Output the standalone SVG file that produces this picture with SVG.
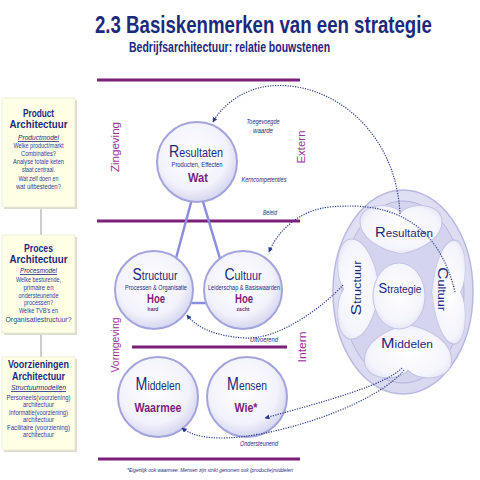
<svg xmlns="http://www.w3.org/2000/svg" width="480" height="480" viewBox="0 0 480 480">
<defs>
<style>
text{font-family:"Liberation Sans",Arial,sans-serif;}
.ttl{font-weight:bold;fill:#1c2a7c}
.bh{font-size:10.5px;font-weight:bold;fill:#1c2a7c;text-anchor:middle}
.bm{font-size:8px;font-style:italic;text-decoration:underline;fill:#1c2a7c;text-anchor:middle}
.bs{font-size:6.5px;fill:#2c3c9c;text-anchor:middle}
.box{fill:#ffffe6;stroke:#ecebd0;stroke-width:0.8}
.shd{fill:#dcdccf}
.vline{stroke:#9a9a9a;stroke-width:1}
.pl{stroke:#7b1f7b;stroke-width:3}
.ci{fill:url(#gc);stroke:#a4a4dc;stroke-width:2}
.cn{font-size:13px;fill:#1c2a7c;text-anchor:middle}
.cs{font-size:6.5px;fill:#1c2a7c;text-anchor:middle}
.cp{font-size:13px;font-weight:bold;fill:#7b1f7b;text-anchor:middle}
.cx{font-size:5px;font-weight:bold;fill:#7b1f7b;text-anchor:middle}
.vl{font-size:10px;fill:#993399;text-anchor:middle}
.il{font-size:6.5px;font-style:italic;fill:#1c2a7c;text-anchor:middle}
.tri{stroke:#8c8ce0;stroke-width:2.5}
.dot{fill:none;stroke:#2a3a8a;stroke-width:1.2;stroke-dasharray:1.2 1.3}
.arr{marker-end:url(#ah)}
.pe{fill:url(#gp);stroke:#c4c4e4;stroke-width:1}
.en{font-size:11px;fill:#1c2a7c;text-anchor:middle}
</style>
<radialGradient id="gc" cx="0.45" cy="0.4" r="0.62">
<stop offset="0" stop-color="#ffffff"/>
<stop offset="0.7" stop-color="#f2f2fb"/>
<stop offset="1" stop-color="#d2d2ef"/>
</radialGradient>
<radialGradient id="gp" cx="0.5" cy="0.45" r="0.6">
<stop offset="0" stop-color="#ffffff"/>
<stop offset="0.75" stop-color="#f4f4fc"/>
<stop offset="1" stop-color="#e0e0f4"/>
</radialGradient>
<radialGradient id="ge" cx="0.45" cy="0.4" r="0.6">
<stop offset="0" stop-color="#ececf9"/>
<stop offset="1" stop-color="#d8d8f0"/>
</radialGradient>
<marker id="ah" viewBox="0 0 10 10" refX="9" refY="5" markerWidth="5" markerHeight="5" orient="auto" markerUnits="userSpaceOnUse">
<path d="M0 0 L10 5 L0 10 Z" fill="#2a3a8a"/>
</marker>
<path id="heart" d="M0 -18 C-10 -30 -38 -28 -38 -8 C-38 8 -22 22 0 27 C22 22 38 8 38 -8 C38 -28 10 -30 0 -18 Z"/>
</defs>
<rect width="480" height="480" fill="#ffffff"/>

<g id="title">
<text class="ttl" transform="translate(95,33) scale(0.777,1)" font-size="24">2.3 Basiskenmerken van een strategie</text>
<text class="ttl" transform="translate(129,52) scale(0.75,1)" font-size="14">Bedrijfsarchitectuur: relatie bouwstenen</text>
</g>

<g id="purple-lines">
<line class="pl" x1="97" y1="80" x2="300" y2="80"/>
<line class="pl" x1="97" y1="221" x2="300" y2="221"/>
<line class="pl" x1="132" y1="347" x2="287" y2="347"/>
<line class="pl" x1="98" y1="459" x2="300" y2="459"/>
</g>

<g id="box-links">
<line class="vline" x1="41" y1="207" x2="41" y2="235"/>
<line class="vline" x1="41" y1="333" x2="41" y2="357"/>
</g>

<g id="product-architectuur">
<rect class="shd" x="4" y="100" width="73" height="109"/>
<rect class="box" x="2" y="98" width="73" height="109"/>
<text class="bh" x="38.5" y="117" textLength="31" lengthAdjust="spacingAndGlyphs">Product</text>
<text class="bh" x="38.5" y="128" textLength="58" lengthAdjust="spacingAndGlyphs">Architectuur</text>
<text class="bm" x="38.5" y="140" textLength="41" lengthAdjust="spacingAndGlyphs">Productmodel</text>
<text class="bs" x="38.5" y="148" textLength="50" lengthAdjust="spacingAndGlyphs">Welke product/markt</text>
<text class="bs" x="38.5" y="156" textLength="35" lengthAdjust="spacingAndGlyphs">Combinaties?</text>
<text class="bs" x="38.5" y="164" textLength="51" lengthAdjust="spacingAndGlyphs">Analyse totale keten</text>
<text class="bs" x="38.5" y="172" textLength="33" lengthAdjust="spacingAndGlyphs">staat centraal.</text>
<text class="bs" x="38.5" y="181" textLength="40" lengthAdjust="spacingAndGlyphs">Wat zelf doen en</text>
<text class="bs" x="38.5" y="189" textLength="45" lengthAdjust="spacingAndGlyphs">wat uitbesteden?</text>
</g>

<g id="proces-architectuur">
<rect class="shd" x="4" y="237" width="73" height="98"/>
<rect class="box" x="2" y="235" width="73" height="98"/>
<text class="bh" x="38.5" y="252" textLength="29" lengthAdjust="spacingAndGlyphs">Proces</text>
<text class="bh" x="38.5" y="263" textLength="58" lengthAdjust="spacingAndGlyphs">Architectuur</text>
<text class="bm" x="38.5" y="273" textLength="37" lengthAdjust="spacingAndGlyphs">Procesmodel</text>
<text class="bs" x="38.5" y="282" textLength="45" lengthAdjust="spacingAndGlyphs">Welke besturende,</text>
<text class="bs" x="38.5" y="290" textLength="30" lengthAdjust="spacingAndGlyphs">primaire en</text>
<text class="bs" x="38.5" y="298" textLength="40" lengthAdjust="spacingAndGlyphs">ondersteunende</text>
<text class="bs" x="38.5" y="305" textLength="29" lengthAdjust="spacingAndGlyphs">processen?</text>
<text class="bs" x="38.5" y="313" textLength="39" lengthAdjust="spacingAndGlyphs">Welke TVB's en</text>
<text class="bs" x="38.5" y="322" textLength="66" lengthAdjust="spacingAndGlyphs">Organisatiestructuur?</text>
</g>

<g id="voorzieningen-architectuur">
<rect class="shd" x="4" y="359" width="73" height="93"/>
<rect class="box" x="2" y="357" width="73" height="93"/>
<text class="bh" x="38.5" y="368" textLength="61" lengthAdjust="spacingAndGlyphs">Voorzieningen</text>
<text class="bh" x="38.5" y="380" textLength="53" lengthAdjust="spacingAndGlyphs">Architectuur</text>
<text class="bm" x="38.5" y="390" textLength="55" lengthAdjust="spacingAndGlyphs">Structuurmodellen</text>
<text class="bs" x="38.5" y="400" textLength="64" lengthAdjust="spacingAndGlyphs">Personeels(voorziening)</text>
<text class="bs" x="38.5" y="407" textLength="31" lengthAdjust="spacingAndGlyphs">architectuur</text>
<text class="bs" x="38.5" y="415" textLength="59" lengthAdjust="spacingAndGlyphs">Informatie(voorziening)</text>
<text class="bs" x="38.5" y="422" textLength="31" lengthAdjust="spacingAndGlyphs">architectuur</text>
<text class="bs" x="38.5" y="430" textLength="63" lengthAdjust="spacingAndGlyphs">Facilitaire (voorziening)</text>
<text class="bs" x="38.5" y="437" textLength="31" lengthAdjust="spacingAndGlyphs">architectuur</text>
</g>

<g id="triangle-links">
<line class="tri" x1="193" y1="195" x2="175" y2="262"/>
<line class="tri" x1="201" y1="195" x2="221" y2="262"/>
<line class="tri" x1="185" y1="303" x2="212" y2="303"/>
</g>

<g id="axis-labels">
<text class="vl" transform="translate(119,147) rotate(-90)" textLength="50" lengthAdjust="spacingAndGlyphs">Zingeving</text>
<text class="vl" transform="translate(305,147) rotate(-90)" textLength="33" lengthAdjust="spacingAndGlyphs">Extern</text>
<text class="vl" transform="translate(119,345) rotate(-90)" textLength="55" lengthAdjust="spacingAndGlyphs">Vormgeving</text>
<text class="vl" transform="translate(306,347) rotate(-90)" textLength="31" lengthAdjust="spacingAndGlyphs">Intern</text>
</g>

<g id="resultaten">
<circle class="ci" cx="197" cy="162" r="40"/>
<text class="cn" transform="translate(196,157) scale(0.83,1)"><tspan font-size="17">R</tspan>esultaten</text>
<text class="cs" x="197" y="167" textLength="51" lengthAdjust="spacingAndGlyphs">Producten, Effecten</text>
<text class="cp" x="198" y="182" textLength="20" lengthAdjust="spacingAndGlyphs">Wat</text>
</g>

<g id="structuur">
<circle class="ci" cx="154" cy="290" r="39"/>
<text class="cn" transform="translate(155,280) scale(0.81,1)"><tspan font-size="17">S</tspan>tructuur</text>
<text class="cs" x="156" y="289.5" textLength="62" lengthAdjust="spacingAndGlyphs">Processen &amp; Organisatie</text>
<text class="cp" x="156" y="303" font-size="12" textLength="18" lengthAdjust="spacingAndGlyphs">Hoe</text>
<text class="cx" x="153" y="311">hard</text>
</g>

<g id="cultuur">
<circle class="ci" cx="243" cy="290" r="39"/>
<text class="cn" transform="translate(243,280) scale(0.83,1)"><tspan font-size="17">C</tspan>ultuur</text>
<text class="cs" x="244" y="289.5" textLength="72" lengthAdjust="spacingAndGlyphs">Leiderschap &amp; Basiswaarden</text>
<text class="cp" x="244" y="303" font-size="12" textLength="18" lengthAdjust="spacingAndGlyphs">Hoe</text>
<text class="cx" x="243" y="311">zacht</text>
</g>

<g id="middelen">
<circle class="ci" cx="158" cy="397" r="40"/>
<text class="cn" transform="translate(158,390) scale(0.79,1)"><tspan font-size="18">M</tspan>iddelen</text>
<text class="cp" x="158" y="412" textLength="47" lengthAdjust="spacingAndGlyphs">Waarmee</text>
</g>

<g id="mensen">
<circle class="ci" cx="247" cy="397" r="40"/>
<text class="cn" transform="translate(247,390) scale(0.79,1)"><tspan font-size="18">M</tspan>ensen</text>
<text class="cp" x="246" y="412" textLength="23" lengthAdjust="spacingAndGlyphs">Wie*</text>
</g>

<g id="strategie-model">
<ellipse cx="403" cy="292" rx="70" ry="102" fill="url(#ge)" stroke="#b8b8e0" stroke-width="1.5"/>
<ellipse cx="403" cy="292" rx="61" ry="91" fill="#d4d4ef" stroke="#b4b4de" stroke-width="1"/>
<use href="#heart" class="pe" transform="translate(401,229) scale(1.08,0.92)"/>
<use href="#heart" class="pe" transform="translate(408,352) rotate(180) scale(1.15,1.02)"/>
<use href="#heart" class="pe" transform="translate(358,289) rotate(-90) scale(1.32,0.8)"/>
<use href="#heart" class="pe" transform="translate(449,292) rotate(90) scale(1.37,0.64)"/>
<ellipse cx="399" cy="296" rx="26" ry="33" class="pe"/>
<text class="en" transform="translate(404,237) scale(1.06,1)"><tspan font-size="14">R</tspan>esultaten</text>
<text class="en" transform="translate(400,293) scale(0.93,1)"><tspan font-size="14">S</tspan>trategie</text>
<text class="en" font-size="12" transform="translate(407,348) scale(1.08,1)"><tspan font-size="15">M</tspan>iddelen</text>
<text class="en" font-size="12" transform="translate(361,288) rotate(-90) scale(1.16,1)"><tspan font-size="15">S</tspan>tructuur</text>
<text class="en" font-size="12" transform="translate(438,289) rotate(90) scale(1.15,1)"><tspan font-size="15">C</tspan>ultuur</text>
</g>

<g id="connector-labels">
<text class="il" x="263" y="124" textLength="33" lengthAdjust="spacingAndGlyphs">Toegevoegde</text>
<text class="il" x="263" y="133" textLength="20" lengthAdjust="spacingAndGlyphs">waarde</text>
<text class="il" x="264" y="182" textLength="45" lengthAdjust="spacingAndGlyphs">Kerncompetenties</text>
<text class="il" x="270" y="215" textLength="14" lengthAdjust="spacingAndGlyphs">Beleid</text>
<text class="il" x="264" y="342" textLength="28" lengthAdjust="spacingAndGlyphs">Uitvoerend</text>
<text class="il" x="259" y="446" textLength="38" lengthAdjust="spacingAndGlyphs">Ondersteunend</text>
</g>

<g id="connectors">
<path class="dot arr" d="M400 214 C396 130 330 80 270 86 C245 88 222 105 213 122"/>
<path class="dot arr" d="M455 292 C440 230 400 200 330 207 C300 210 278 230 269 252"/>
<path class="dot arr" d="M343 285 C325 305 280 340 245 338 C215 336 197 328 187 315"/>
<path class="dot arr" d="M402 368 C385 385 330 400 265 418"/>
<path class="dot arr" d="M404 370 C380 400 300 430 240 437 C210 440 192 436 182 428"/>
</g>

<text id="footnote" x="210" y="472" font-size="5.5" font-style="italic" fill="#1c2a7c" text-anchor="middle" textLength="166" lengthAdjust="spacingAndGlyphs">*Eigenlijk ook waarmee. Mensen zijn strikt genomen ook (productie)middelen</text>
</svg>
